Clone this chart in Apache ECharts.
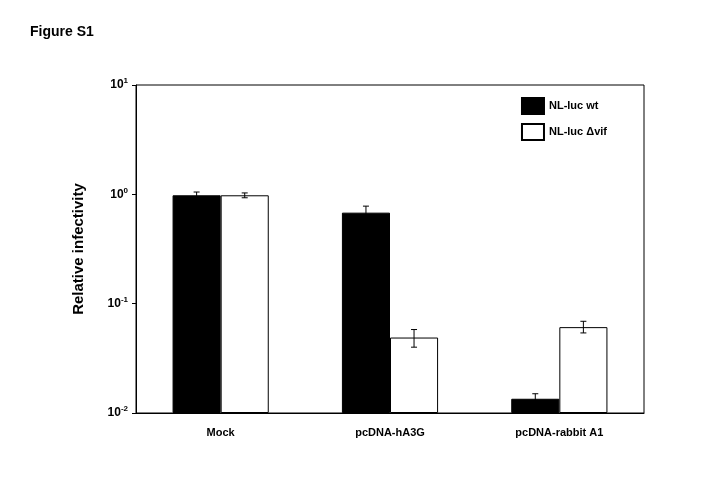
<!DOCTYPE html>
<html><head><meta charset="utf-8">
<script src="https://cdn.jsdelivr.net/npm/echarts@6/dist/echarts.min.js"></script>
<style>body{margin:0;background:#fff}#c{width:720px;height:498px}</style>
</head><body><div id="c"></div>
<script>
// 数据
const categories = ['Mock', 'pcDNA-hA3G', 'pcDNA-rabbit A1']
const wtValues = [0.98, 0.68, 0.0135]
const wtErrLow = [0.93, 0.60, 0.012]
const wtErrHigh = [1.05, 0.78, 0.015]
const vifValues = [0.98, 0.049, 0.061]
const vifErrLow = [0.93, 0.040, 0.054]
const vifErrHigh = [1.03, 0.058, 0.069]
const axisMin = 0.01

// 对数轴上柱子从 axisMin 开始：透明底座 + 叠加
const baseValues = categories.map(() => axisMin)
const wtStacked = wtValues.map(v => v - axisMin)
const vifStacked = vifValues.map(v => v - axisMin)

// 误差线
function errorSeries(name, low, high, side) {
    let data = []
    for (let i = 0; i < categories.length; i++) {
        data.push([i, low[i], high[i]])
    }
    return {
        name: name + ' err',
        type: 'custom',
        z: 10,
        renderItem: function (params, api) {
            const w = api.size([1, 1])[0]
            const dx = side * w * 0.142
            const lo = api.coord([api.value(0), api.value(1)])
            const hi = api.coord([api.value(0), api.value(2)])
            const x = lo[0] + dx
            const style = { stroke: '#000', lineWidth: 1 }
            return {
                type: 'group',
                children: [
                    { type: 'line', shape: { x1: x, y1: lo[1], x2: x, y2: hi[1] }, style: style },
                    { type: 'line', shape: { x1: x - 3, y1: lo[1], x2: x + 3, y2: lo[1] }, style: style },
                    { type: 'line', shape: { x1: x - 3, y1: hi[1], x2: x + 3, y2: hi[1] }, style: style }
                ]
            }
        },
        data: data
    }
}

const powMap = { '0.01': '-2', '0.1': '-1', '1': '0', '10': '1' }
const chart = echarts.init(document.getElementById('c'))
chart.setOption({
    animation: false,
    textStyle: { fontFamily: 'Liberation Sans, Arial', color: '#000' },
    title: {
        text: 'Figure S1', left: 25, top: 20,
        textStyle: { fontSize: 14, fontWeight: 'bold', color: '#000', fontFamily: 'Liberation Sans' }
    },
    legend: {
        orient: 'vertical', right: 108, top: 92, itemGap: 8,
        itemWidth: 22, itemHeight: 16, icon: 'rect',
        textStyle: { fontSize: 11, fontWeight: 'bold', color: '#000' },
        data: ['NL-luc wt', 'NL-luc \u0394vif']
    },
    grid: {
        left: 136, right: 76, top: 85, bottom: 85,
        show: true, borderColor: '#000', borderWidth: 1
    },
    xAxis: {
        type: 'category',
        data: categories,
        axisLine: { lineStyle: { color: '#000' } },
        axisTick: { show: false },
        axisLabel: { fontSize: 11, fontWeight: 'bold', color: '#000', margin: 14 }
    },
    yAxis: {
        type: 'log',
        min: axisMin, max: 10,
        name: 'Relative infectivity',
        nameLocation: 'middle', nameGap: 50,
        nameTextStyle: { fontSize: 15, fontWeight: 'bold', color: '#000' },
        axisLine: { show: true, lineStyle: { color: '#000' } },
        axisTick: { show: true, length: 4, lineStyle: { color: '#000' } },
        minorTick: { show: false },
        splitLine: { show: false },
        axisLabel: {
            color: '#000',
            formatter: function (v) {
                const p = powMap[String(+v.toPrecision(3))] || ''
                return '{b|10}{s|' + p + '}'
            },
            rich: {
                b: { fontSize: 12, fontWeight: 'bold', color: '#000' },
                s: { fontSize: 8, fontWeight: 'bold', color: '#000', verticalAlign: 'top', padding: [0, 0, 8, 0] }
            }
        }
    },
    series: [
        {
            name: 'wt base', type: 'bar', stack: 'wt', data: baseValues,
            barWidth: '28.4%', barGap: '0%', silent: true,
            itemStyle: { color: 'transparent' }
        },
        {
            name: 'NL-luc wt', type: 'bar', stack: 'wt', data: wtStacked,
            barWidth: '28.4%',
            itemStyle: { color: '#000', borderColor: '#000', borderWidth: 1 }
        },
        {
            name: 'vif base', type: 'bar', stack: 'vif', data: baseValues,
            barWidth: '28.4%', silent: true,
            itemStyle: { color: 'transparent' }
        },
        {
            name: 'NL-luc \u0394vif', type: 'bar', stack: 'vif', data: vifStacked,
            barWidth: '28.4%',
            itemStyle: { color: '#fff', borderColor: '#000', borderWidth: 1 }
        },
        errorSeries('wt', wtErrLow, wtErrHigh, -1),
        errorSeries('vif', vifErrLow, vifErrHigh, 1)
    ]
})
</script></body></html>
